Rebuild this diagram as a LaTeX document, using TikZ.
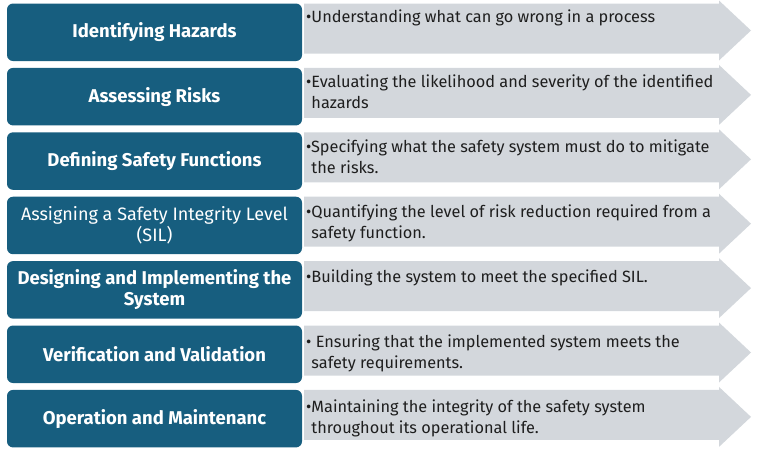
\documentclass[tikz,border=0pt]{standalone}
\usepackage{fontspec}
\setmainfont{Fira Sans}
\definecolor{boxblue}{HTML}{175E7F}
\definecolor{arrowgray}{HTML}{D3D7DC}
\definecolor{txtcol}{HTML}{1E1E1E}
\begin{document}
\begin{tikzpicture}[x=1pt,y=-1pt,
  leftbox/.style={fill=boxblue, rounded corners=6pt, minimum width=295pt, minimum height=57.5pt,
    text=white, font=\fontsize{18.5}{21}\selectfont\bfseries, align=center, inner sep=1pt},
  leftreg/.style={leftbox, font=\fontsize{18}{21}\selectfont},
  righttext/.style={anchor=north west, align=left, text=txtcol, font=\fontsize{16.3}{21}\selectfont, inner sep=0pt},
  arrowshape/.style={fill=arrowgray}]
\useasboundingbox (0,0) rectangle (768,456);
\foreach \i/\st/\lt/\rt in {
  1/leftbox/{Identifying Hazards}/{•Understanding what can go wrong in a process},
  2/leftbox/{Assessing Risks}/{•Evaluating the likelihood and severity of the identified\\\hphantom{•}hazards},
  3/leftbox/{Defining Safety Functions}/{•Specifying what the safety system must do to mitigate\\\hphantom{•}the risks.},
  4/leftreg/{Assigning a Safety Integrity Level\\(SIL)}/{•Quantifying the level of risk reduction required from a\\\hphantom{•}safety function.},
  5/leftbox/{Designing and Implementing the\\System}/{•Building the system to meet the specified SIL.},
  6/leftbox/{Verification and Validation}/{• Ensuring that the implemented system meets the\\\hphantom{•}safety requirements.},
  7/leftbox/{Operation and Maintenanc}/{•Maintaining the integrity of the safety system\\\hphantom{•}throughout its operational life.}} {
  \pgfmathsetmacro{\t}{3.5+64.4*(\i-1)}
  \pgfmathsetmacro{\ty}{\t+6.5+0.5*(\i-1)}
  \fill[arrowshape] (304,\t) -- (719,\t) -- (719,\t-3) -- (751,\t+27) -- (719,\t+57) -- (719,\t+50) -- (304,\t+50) -- cycle;
  \node[\st] (L\i) at (154.5,\t+28.75) {\lt};
  \node[righttext] (R\i) at (306,\ty) {\rt};
}
\end{tikzpicture}
\end{document}
